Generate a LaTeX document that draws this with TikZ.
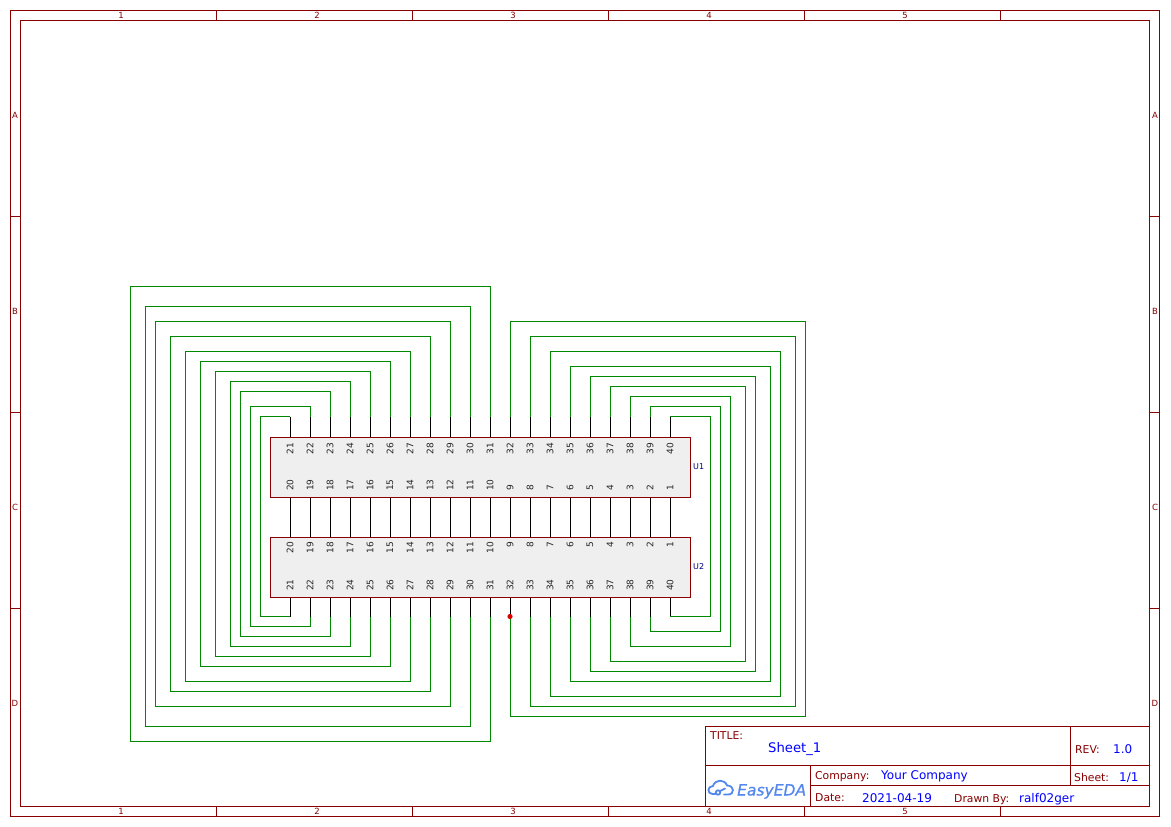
\documentclass[tikz,border=0pt]{standalone}
\usepackage{fontspec}
\setmainfont{DejaVu Sans}
\definecolor{frame}{HTML}{880000}
\definecolor{wire}{HTML}{008800}
\definecolor{val}{HTML}{0000FF}
\definecolor{des}{HTML}{000080}
\definecolor{chipfill}{HTML}{EFEFEF}
\definecolor{logo}{HTML}{5588EE}
\newcommand{\fs}[1]{\fontsize{#1pt}{#1pt}\selectfont}
\tikzset{
 x=1pt,y=-1pt,
 frameline/.style={draw=frame,line width=1pt},
 chip/.style={draw=frame,fill=chipfill,line width=1pt,inner sep=0pt,minimum width=420pt,minimum height=60pt,anchor=north west},
 pinstub/.style={draw=black,line width=1pt},
 wireline/.style={draw=wire,line width=1pt},
 pinno/.style={inner sep=0pt,rotate=90,text=black!85,font=\fs{9}},
 grid/.style={inner sep=0pt,text=frame,font=\fs{8.5}},
 lab/.style={inner sep=0pt,anchor=base west,text=frame,font=\fs{10.8}},
 value/.style={inner sep=0pt,anchor=base west,text=val,font=\fs{12}},
 desig/.style={inner sep=0pt,anchor=base west,text=des,font=\fs{8}},
}
\begin{document}
\begin{tikzpicture}
\useasboundingbox (0,0) rectangle (1171,827);
\fill[white] (0,0) rectangle (1171,827);
\begin{scope}[yshift=-0.5pt]
% frame
\draw[frameline] (10,10) rectangle (1159.5,816);
\draw[frameline] (20,20) rectangle (1149.5,806);
\foreach \x in {216,412,608,804,1000}{
 \draw[frameline] (\x,10) -- (\x,20);
 \draw[frameline] (\x,806) -- (\x,816);
}
\foreach \y in {216,412,608}{
 \draw[frameline] (10,\y) -- (20,\y);
 \draw[frameline] (1149.5,\y) -- (1159.5,\y);
}
\foreach \t/\x in {1/121,2/317,3/513,4/709,5/905}{
 \node[grid] (gt\t) at (\x,15) {\t};
 \node[grid] (gb\t) at (\x,811) {\t};
}
\foreach \t/\y in {A/115,B/311,C/507,D/703}{
 \node[grid] (gl\t) at (15,\y) {\t};
 \node[grid] (gr\t) at (1155,\y) {\t};
}
% title block
\draw[frameline] (705,726) rectangle (1149.5,806);
\draw[frameline] (705,765) -- (1149.5,765);
\draw[frameline] (810,785) -- (1149.5,785);
\draw[frameline] (810,765) -- (810,806);
\draw[frameline] (1070,726) -- (1070,785);
\node[lab] (tl) at (710,739) {TITLE:};
\node[value,font=\fs{13.2}] (tv) at (768,752) {Sheet\_1};
\node[lab] (rl) at (1075,753) {REV:};
\node[value] (rv) at (1113,753) {1.0};
\node[lab] (cl) at (815,779) {Company:};
\node[value] (cv) at (881,779) {Your Company};
\node[lab] (sl) at (1074,781) {Sheet:};
\node[value] (sv) at (1119,781) {1/1};
\node[lab] (dl) at (815,801) {Date:};
\node[value] (dv) at (862,802) {2021-04-19};
\node[lab] (bl) at (954,802) {Drawn By:};
\node[value] (bv) at (1019,802) {ralf02ger};
\node[inner sep=0pt,anchor=base west,text=logo,font=\fs{15.5}\itshape\addfontfeature{FakeBold=0.8}] (lg) at (737,795) {EasyEDA};
\draw[logo,line width=1.8pt] (718,792) circle (2.2);
\draw[logo,line width=1.8pt,line cap=round] (715.5,793.5) -- (712.5,793.5) .. controls (707,793.5) and (707,785.5) .. (713,785.5) .. controls (715,778.5) and (725,778.5) .. (727,785) .. controls (734.5,785) and (735,794) .. (728,794) -- (724,794);
\draw[logo,line width=1.8pt,line cap=round] (720,790.5) -- (725,788);
\end{scope}
\begin{scope}[yshift=0.5pt]
% chips
\node[chip] (U1) at (270,437) {};
\node[chip] (U2) at (270,537) {};
\foreach \n/\m [evaluate=\n as \x using {290+20*(\n-21)}] in
 {21/20,22/19,23/18,24/17,25/16,26/15,27/14,28/13,29/12,30/11,31/10,32/9,33/8,34/7,35/6,36/5,37/4,38/3,39/2,40/1}{
 \coordinate (a\n) at (\x,417);
 \coordinate (b\n) at (\x,617);
 \draw[pinstub] (a\n) -- (a\n |- U1.north);
 \draw[pinstub] (b\n) -- (b\n |- U2.south);
 \draw[pinstub] (a\n |- U1.south) -- (a\n |- U2.north);
 \node[pinno,anchor=east] (ut\n) at (\x,443) {\n};
 \node[pinno,anchor=west] (ub\m) at (\x,491.5) {\m};
 \node[pinno,anchor=east] (dt\m) at (\x,542) {\m};
 \node[pinno,anchor=west] (db\n) at (\x,591.5) {\n};
}
% wires: pin / outer x / top y / bottom y
\foreach \n/\o/\t/\b in {21/260/417/617,22/250/407/627,23/240/392/637,24/230/382/647,25/215/372/657,26/200/362/667,27/185/352/682,28/170/337/692,29/155/322/707,30/145/307/727,31/130/287/742,
 32/805/322/717,33/795/337/707,34/780/352/697,35/770/367/682,36/755/377/672,37/745/387/662,38/730/397/647,39/720/407/632,40/710/417/617}{
 \draw[wireline] (a\n) -- (a\n |- 0,\t) -- (\o,\t) -- (\o,\b) -- (b\n |- 0,\b) -- (b\n);
}
\fill[red!85!black] (b32) circle (2.6);
\node[desig] (U1d) at (693,470) {U1};
\node[desig] (U2d) at (693,570) {U2};
\end{scope}
\end{tikzpicture}
\end{document}
